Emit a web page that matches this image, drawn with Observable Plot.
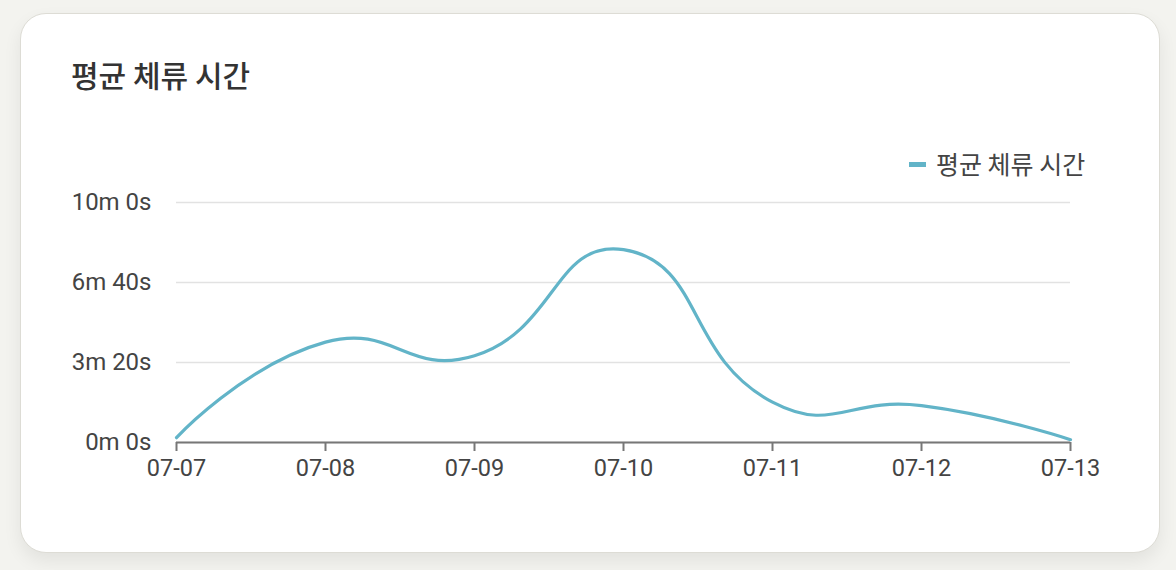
<!DOCTYPE html>
<html>
<head>
<meta charset="utf-8">
<script src="https://cdn.jsdelivr.net/npm/d3@7"></script>
<script src="https://cdn.jsdelivr.net/npm/@observablehq/plot@0.6"></script>
<style>
  html, body { margin: 0; padding: 0; }
  body { width: 1176px; height: 570px; background: #f3f3ef; position: relative; overflow: hidden;
         font-family: Roboto, "Noto Sans CJK KR", sans-serif; }
  #card { position: absolute; left: 20px; top: 13px; width: 1140px; height: 540px; box-sizing: border-box;
          background: #fff; border: 1.5px solid #dddcd5; border-radius: 26px;
          box-shadow: 0 8px 18px rgba(0,0,0,0.07); }
  #title { position: absolute; left: 71px; top: 58px; font-size: 30px; line-height: 32px; font-weight: 500; color: #333;
           font-family: "Noto Sans CJK KR", sans-serif; }
  #legend { position: absolute; left: 909px; top: 149px; height: 28px; display: flex; align-items: center; color: #444;
            font-size: 25px; font-family: "Noto Sans CJK KR", sans-serif; }
  #legend .sw { width: 17px; height: 5px; background: #62b4c8; margin-right: 10px; margin-top: 3px; }
  #chart { position: absolute; left: 20px; top: 180px; }
</style>
</head>
<body>
<div id="card"></div>
<div id="title"></div>
<div id="legend"><span class="sw"></span><span id="legtext"></span></div>
<div id="chart"></div>
<script>
const titleText = "평균 체류 시간";
const seriesName = "평균 체류 시간";
const dates = ["07-07", "07-08", "07-09", "07-10", "07-11", "07-12", "07-13"];
const seconds = [12, 251, 217, 482, 101, 92, 7];
const yTicks = [0, 200, 400, 600];

document.getElementById("title").textContent = titleText;
document.getElementById("legtext").textContent = seriesName;

const data = dates.map((d, i) => ({date: d, value: seconds[i]}));

// Smooth spline (distance-weighted, endpoints anchored) as a d3 curve factory
function smoothCurve(smooth) {
  return function (context) {
    let pts = [];
    return {
      areaStart() {}, areaEnd() {},
      lineStart() { pts = []; },
      point(x, y) { pts.push([+x, +y]); },
      lineEnd() {
        const n = pts.length;
        if (!n) return;
        const cps = pts.map((p, i) => {
          if (i === 0 || i === n - 1) return {prev: p, next: p};
          const prev = pts[i - 1], next = pts[i + 1];
          const d01 = Math.hypot(p[0] - prev[0], p[1] - prev[1]);
          const d12 = Math.hypot(next[0] - p[0], next[1] - p[1]);
          const r = d12 / (d01 + d12);
          const vx = next[0] - prev[0], vy = next[1] - prev[1];
          return {
            prev: [p[0] - vx * smooth * (1 - r), p[1] - vy * smooth * (1 - r)],
            next: [p[0] + vx * smooth * r, p[1] + vy * smooth * r]
          };
        });
        context.moveTo(pts[0][0], pts[0][1]);
        for (let i = 1; i < n; i++) {
          context.bezierCurveTo(cps[i - 1].next[0], cps[i - 1].next[1], cps[i].prev[0], cps[i].prev[1], pts[i][0], pts[i][1]);
        }
      }
    };
  };
}

const fmt = s => `${Math.floor(s / 60)}m ${s % 60}s`;

const chart = Plot.plot({
  width: 1120,
  height: 320,
  marginLeft: 156,
  marginRight: 70,
  marginTop: 22,
  marginBottom: 58,
  style: { fontFamily: "Roboto, sans-serif", fontSize: "24px", color: "#444", background: "transparent", overflow: "visible" },
  x: { type: "point", domain: dates, padding: 0, label: null },
  y: { domain: [0, 600], label: null },
  marks: [
    Plot.gridY(yTicks, { stroke: "#e2e2e2", strokeOpacity: 1, strokeWidth: 1.5 }),
    Plot.axisY(yTicks, { tickSize: 0, tickPadding: 25, tickFormat: fmt, fill: "#444", fontSize: 24, label: null }),
    Plot.ruleY([0], { stroke: "#777", strokeWidth: 2 }),
    Plot.axisX(dates, { tickSize: 9, tickPadding: 8, stroke: "#777", strokeWidth: 2, fill: "#444", fontSize: 23.5, label: null }),
    Plot.line(data, { x: "date", y: "value", stroke: "#62b4c8", strokeWidth: 3.2, curve: smoothCurve(0.5) })
  ]
});
document.getElementById("chart").appendChild(chart);
</script>
</body>
</html>
